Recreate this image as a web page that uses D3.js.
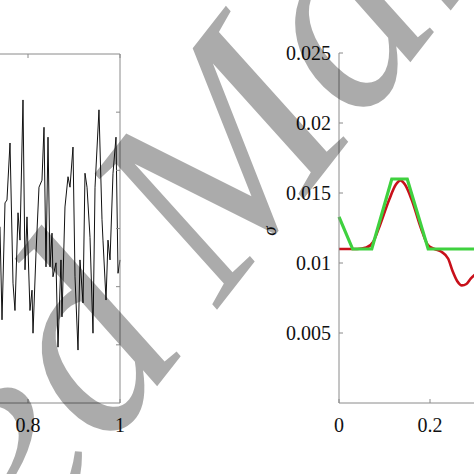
<!DOCTYPE html>
<html><head><meta charset="utf-8">
<script src="https://cdn.jsdelivr.net/npm/d3@7"></script>
<style>html,body{margin:0;padding:0;background:#fff;overflow:hidden}</style>
</head><body>
<svg id="c" width="474" height="474"></svg>
<script>
// Left panel signal (visible portion)
const sigX = [0.739,0.7435,0.75,0.7543,0.7609,0.7674,0.7717,0.7783,0.7826,0.7891,0.7935,0.7978,0.8043,0.8087,0.8109,0.8174,0.8239,0.8304,0.8348,0.8391,0.8435,0.8478,0.8522,0.8543,0.8609,0.8652,0.8717,0.8739,0.8804,0.887,0.8913,0.8978,0.9022,0.9087,0.913,0.9196,0.9239,0.9283,0.9348,0.9413,0.9457,0.9543,0.9609,0.963,0.9696,0.9739,0.9783,0.9848,0.9913,0.9957,1.0];
const sigY = [0.03,-1.57,0.44,0.49,1.47,-0.94,-1.41,0.27,-0.20,2.21,-0.71,0.20,-1.41,-1.06,-1.80,-0.42,0.71,0.83,1.74,-0.66,1.57,-0.66,-0.08,-0.83,-0.59,-2.04,-0.54,-1.52,0.37,0.89,0.71,1.40,-0.83,-2.09,-0.54,-1.28,0.95,0.71,-0.15,-1.80,0.71,2.04,0.15,-0.20,-1.23,-0.20,-0.54,0.95,1.57,-0.77,-0.54];
const leftXTicks = [0.8, 1];
const leftXTickLabels = ["0.8", "1"];
const leftYTicks = [-2,-1,0,1,2];

// Right panel sigma curves
const redX = [0,0.04,0.06,0.075,0.09,0.11,0.125,0.135,0.145,0.16,0.18,0.195,0.21,0.225,0.24,0.25,0.26,0.27,0.28,0.29,0.3];
const redY = [0.011,0.011,0.0111,0.0115,0.0127,0.0145,0.0156,0.0159,0.0156,0.0145,0.0125,0.0113,0.0110,0.0108,0.0103,0.0094,0.0087,0.0084,0.0085,0.0089,0.0092];
const greenX = [0,0.03,0.072,0.116,0.15,0.196,0.5];
const greenY = [0.0133,0.011,0.011,0.016,0.016,0.011,0.011];
const rightYTicks = [0.005,0.01,0.015,0.02,0.025];
const rightYTickLabels = ["0.005","0.01","0.015","0.02","0.025"];
const rightXTicks = [0,0.2];
const rightXTickLabels = ["0","0.2"];
const yLabel = "σ";
const watermarkWords = ["Accepted ", "Manuscript"];

const svg = d3.select("#c");
const font = "'Liberation Serif','Times New Roman',serif";
const axisCol = "#8a8a8a";

// ---- Left panel ----
const lx = d3.scaleLinear().domain([0,1]).range([-340,120]);
const ly = d3.scaleLinear().domain([-3,3]).range([403,54]);
const L = svg.append("g");
L.append("path").datum(sigX.map((x,i)=>[x,sigY[i]]))
  .attr("fill","none").attr("stroke","#111").attr("stroke-width",1)
  .attr("d", d3.line().x(d=>lx(d[0])).y(d=>ly(d[1])));
L.append("path").attr("fill","none").attr("stroke",axisCol).attr("stroke-width",1)
  .attr("d",`M${lx(0)},${ly(3)}H${lx(1)}V${ly(-3)}H${lx(0)}`);
leftXTicks.forEach(t=>{
  L.append("line").attr("x1",lx(t)).attr("x2",lx(t)).attr("y1",ly(3)).attr("y2",ly(3)+4).attr("stroke",axisCol);
  L.append("line").attr("x1",lx(t)).attr("x2",lx(t)).attr("y1",ly(-3)).attr("y2",ly(-3)-4).attr("stroke",axisCol);
});
leftYTicks.forEach(t=>{
  L.append("line").attr("x1",lx(1)).attr("x2",lx(1)-4).attr("y1",ly(t)).attr("y2",ly(t)).attr("stroke",axisCol);
});
leftXTicks.forEach((t,i)=>{
  L.append("text").attr("x",lx(t)).attr("y",432).attr("text-anchor","middle")
   .attr("font-family",font).attr("font-size",20).attr("fill","#111").text(leftXTickLabels[i]);
});

// ---- Right panel ----
const rx = d3.scaleLinear().domain([0,1]).range([339,794]);
const ry = d3.scaleLinear().domain([0,0.025]).range([403,53]);
const R = svg.append("g");
R.append("path").datum(redX.map((x,i)=>[x,redY[i]]))
  .attr("fill","none").attr("stroke","#c8101a").attr("stroke-width",2.6)
  .attr("d", d3.line().curve(d3.curveMonotoneX).x(d=>rx(d[0])).y(d=>ry(d[1])));
R.append("path").datum(greenX.map((x,i)=>[x,greenY[i]]))
  .attr("fill","none").attr("stroke","#3fd13f").attr("stroke-width",3.2)
  .attr("d", d3.line().x(d=>rx(d[0])).y(d=>ry(d[1])));
R.append("path").attr("fill","none").attr("stroke",axisCol).attr("stroke-width",1)
  .attr("d",`M${rx(0)},${ry(0.025)}V${ry(0)}H${rx(1)}`);
rightYTicks.forEach((t,i)=>{
  R.append("line").attr("x1",rx(0)).attr("x2",rx(0)+4).attr("y1",ry(t)).attr("y2",ry(t)).attr("stroke",axisCol);
  R.append("text").attr("x",rx(0)-8).attr("y",ry(t)+7).attr("text-anchor","end")
   .attr("font-family",font).attr("font-size",20).attr("fill","#111").text(rightYTickLabels[i]);
});
rightXTicks.forEach((t,i)=>{
  R.append("line").attr("x1",rx(t)).attr("x2",rx(t)).attr("y1",ry(0)).attr("y2",ry(0)-4).attr("stroke",axisCol);
  R.append("text").attr("x",rx(t)).attr("y",432).attr("text-anchor","middle")
   .attr("font-family",font).attr("font-size",20).attr("fill","#111").text(rightXTickLabels[i]);
});
R.append("text").attr("transform","translate(276,231) rotate(-90)").attr("text-anchor","middle")
  .attr("font-family",font).attr("font-style","italic").attr("font-size",19).attr("fill","#111").text(yLabel);

// ---- Watermark ----
const fs = 275;
const W = svg.append("g").attr("transform","translate(218,161) rotate(-52)");
const wt = W.append("text").attr("font-family",font).attr("font-style","italic").attr("font-size",fs)
  .attr("fill","#000").attr("fill-opacity",0.33);
wt.append("tspan").text(watermarkWords[0]);
wt.append("tspan").attr("dx",-24).text(watermarkWords[1]);
const node = wt.node();
const mStart = node.getStartPositionOfChar(9).x;
const mW = node.getExtentOfChar(9).width;
wt.attr("x", -(mStart + mW/2)).attr("y", 0.33*fs);
</script>
</body></html>
